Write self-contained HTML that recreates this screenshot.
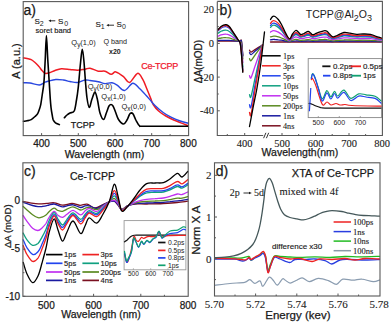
<!DOCTYPE html>
<html><head><meta charset="utf-8"><style>
html,body{margin:0;padding:0;background:#fff;width:392px;height:323px;overflow:hidden}
svg{display:block}
</style></head><body>
<svg width="392" height="323" viewBox="0 0 392 323">
<rect width="392" height="323" fill="#fff"/>
<path d="M23.5,57.9 C24.1,58.0 25.7,58.2 27.0,58.5 C28.3,58.8 29.9,58.9 31.2,59.6 C32.5,60.3 33.7,61.4 35.0,62.5 C36.3,63.6 37.7,65.2 38.9,66.5 C40.1,67.8 41.0,69.4 42.0,70.5 C43.0,71.6 43.8,72.9 45.0,73.3 C46.2,73.7 47.6,73.3 49.3,72.8 C51.0,72.3 53.0,71.2 55.0,70.5 C57.0,69.8 58.8,68.9 61.3,68.7 C63.8,68.5 67.3,69.2 70.0,69.5 C72.7,69.8 75.0,70.3 77.5,70.3 C80.0,70.2 82.9,69.5 85.0,69.2 C87.1,68.9 87.8,67.9 90.0,68.2 C92.2,68.5 95.7,70.7 98.2,71.2 C100.7,71.7 102.8,70.7 105.0,71.2 C107.2,71.7 109.4,74.2 111.2,74.3 C113.0,74.4 113.8,71.5 115.8,71.9 C117.8,72.3 121.2,74.8 123.5,76.6 C125.8,78.4 127.2,83.0 129.5,82.5 C131.8,82.0 135.3,73.9 137.5,73.4 C139.7,72.9 141.3,77.1 142.9,79.7 C144.5,82.3 145.7,86.2 147.0,89.3 C148.3,92.4 149.8,96.1 150.8,98.6 C151.8,101.1 151.9,102.4 153.2,104.5 C154.5,106.6 156.6,109.2 158.6,111.0 C160.6,112.8 162.9,114.2 165.0,115.5 C167.1,116.8 168.5,117.5 171.0,118.7 C173.5,119.9 177.3,121.4 180.2,122.6 C183.1,123.8 186.9,125.2 188.2,125.7" stroke="#f01c24" stroke-width="1.5" fill="none" stroke-linejoin="round" stroke-linecap="round" />
<path d="M23.5,82.8 C24.6,82.8 27.4,82.6 30.0,83.0 C32.6,83.4 36.8,85.1 39.3,85.0 C41.8,84.9 43.5,82.9 45.0,82.2 C46.5,81.5 46.8,81.5 48.6,81.1 C50.4,80.6 53.3,79.7 55.8,79.5 C58.3,79.3 61.0,79.7 63.4,80.0 C65.8,80.3 67.7,81.1 70.0,81.5 C72.3,81.9 75.0,82.8 77.5,82.5 C80.0,82.2 82.9,80.3 85.0,80.0 C87.1,79.7 87.8,80.2 90.0,80.5 C92.2,80.8 95.7,81.2 98.2,81.7 C100.7,82.2 102.7,83.4 105.0,83.6 C107.3,83.8 109.9,82.5 112.0,82.8 C114.1,83.1 115.3,84.0 117.4,85.3 C119.5,86.6 121.9,90.8 124.5,90.5 C127.1,90.2 130.3,83.6 132.8,83.3 C135.3,83.0 137.3,86.5 139.5,88.5 C141.7,90.5 144.2,93.3 146.2,95.5 C148.2,97.7 150.0,100.0 151.6,101.7 C153.2,103.5 153.6,104.2 155.5,106.0 C157.4,107.8 160.6,110.6 163.2,112.5 C165.8,114.4 168.2,115.8 171.0,117.2 C173.8,118.6 177.3,120.0 180.2,121.0 C183.1,122.0 186.9,122.9 188.2,123.3" stroke="#2a48e0" stroke-width="1.4" fill="none" stroke-linejoin="round" stroke-linecap="round" />
<path d="M23.5,121.3 C24.1,121.2 25.7,121.1 27.0,120.8 C28.3,120.5 29.9,120.3 31.2,119.6 C32.5,118.9 33.9,117.5 35.0,116.5 C36.1,115.5 37.0,114.8 37.7,113.6 C38.5,112.3 39.0,110.5 39.5,109.0 C40.0,107.5 40.3,106.6 40.8,104.3 C41.2,102.0 41.7,98.6 42.2,95.0 C42.7,91.4 43.4,88.4 43.9,82.6 C44.4,76.8 44.8,67.8 45.2,60.0 C45.6,52.2 46.0,35.6 46.4,35.6 C46.8,35.6 47.3,52.3 47.8,60.0 C48.3,67.7 48.8,75.7 49.2,82.0 C49.6,88.3 49.9,93.8 50.2,98.0 C50.5,102.2 50.7,104.6 51.0,107.4 C51.3,110.2 51.8,112.9 52.2,115.0 C52.6,117.1 52.7,118.5 53.2,119.8 C53.8,121.1 54.5,122.0 55.5,122.8 C56.5,123.6 58.8,124.3 59.4,124.6" stroke="#000" stroke-width="1.6" fill="none" stroke-linejoin="round" stroke-linecap="round" />
<path d="M64.3,117.8 C64.8,117.3 66.0,115.8 67.0,115.0 C68.0,114.2 68.8,113.7 70.0,113.0 C71.2,112.3 73.1,113.2 74.2,111.0 C75.3,108.8 75.8,103.8 76.5,100.0 C77.2,96.2 77.5,94.2 78.2,87.9 C78.9,81.6 79.9,68.5 80.6,62.0 C81.3,55.5 81.7,49.2 82.3,49.2 C82.9,49.2 83.5,56.5 84.0,62.0 C84.5,67.5 85.0,76.0 85.5,82.0 C86.0,88.0 86.4,93.8 87.0,98.0 C87.6,102.2 88.5,107.3 89.3,107.5 C90.1,107.7 91.0,101.6 92.0,99.0 C93.0,96.4 94.1,91.9 95.0,92.1 C95.9,92.3 96.7,96.5 97.5,100.0 C98.3,103.5 99.0,109.8 100.0,113.0 C101.0,116.2 102.5,119.6 103.6,119.5 C104.7,119.4 105.6,114.8 106.5,112.5 C107.4,110.2 108.2,107.3 109.0,106.0 C109.8,104.7 110.3,104.5 111.0,104.5 C111.7,104.5 112.2,104.8 113.0,106.0 C113.8,107.2 114.6,109.8 115.5,112.0 C116.4,114.2 117.2,117.5 118.5,119.5 C119.8,121.5 122.0,123.9 123.4,124.0 C124.8,124.1 126.0,121.6 127.0,120.0 C128.0,118.4 128.8,115.4 129.6,114.2 C130.3,113.0 130.9,112.9 131.5,112.9 C132.1,113.0 132.7,113.3 133.4,114.5 C134.1,115.7 134.8,118.1 135.8,120.0 C136.8,121.9 138.1,124.8 139.6,125.8 C141.1,126.8 136.9,126.1 145.0,126.2 C153.1,126.3 181.1,126.2 188.3,126.2" stroke="#000" stroke-width="1.6" fill="none" stroke-linejoin="round" stroke-linecap="round" />
<rect x="23.2" y="1.6" width="165.4" height="134.0" fill="none" stroke="#585858" stroke-width="1.1"/>
<line x1="41.6" y1="135.6" x2="41.6" y2="133.1" stroke="#585858" stroke-width="1"/>
<text x="41.6" y="147.3" font-family="Liberation Sans" font-size="10" fill="#1a1a1a" stroke="#1a1a1a" stroke-width="0.25" text-anchor="middle" >400</text>
<line x1="78.3" y1="135.6" x2="78.3" y2="133.1" stroke="#585858" stroke-width="1"/>
<text x="78.3" y="147.3" font-family="Liberation Sans" font-size="10" fill="#1a1a1a" stroke="#1a1a1a" stroke-width="0.25" text-anchor="middle" >500</text>
<line x1="115.0" y1="135.6" x2="115.0" y2="133.1" stroke="#585858" stroke-width="1"/>
<text x="115.0" y="147.3" font-family="Liberation Sans" font-size="10" fill="#1a1a1a" stroke="#1a1a1a" stroke-width="0.25" text-anchor="middle" >600</text>
<line x1="151.7" y1="135.6" x2="151.7" y2="133.1" stroke="#585858" stroke-width="1"/>
<text x="151.7" y="147.3" font-family="Liberation Sans" font-size="10" fill="#1a1a1a" stroke="#1a1a1a" stroke-width="0.25" text-anchor="middle" >700</text>
<text x="188.4" y="147.3" font-family="Liberation Sans" font-size="10" fill="#1a1a1a" stroke="#1a1a1a" stroke-width="0.25" text-anchor="middle" >800</text>
<line x1="60.0" y1="135.6" x2="60.0" y2="134.1" stroke="#585858" stroke-width="1"/>
<line x1="96.7" y1="135.6" x2="96.7" y2="134.1" stroke="#585858" stroke-width="1"/>
<line x1="133.4" y1="135.6" x2="133.4" y2="134.1" stroke="#585858" stroke-width="1"/>
<line x1="170.1" y1="135.6" x2="170.1" y2="134.1" stroke="#585858" stroke-width="1"/>
<text x="64.7" y="157.8" font-family="Liberation Sans" font-size="10.5" fill="#1a1a1a" stroke="#1a1a1a" stroke-width="0.25" text-anchor="start" >Wavelength (nm)</text>
<text x="19.8" y="61.0" font-family="Liberation Sans" font-size="11" fill="#1a1a1a" stroke="#1a1a1a" stroke-width="0.25" text-anchor="middle" transform="rotate(-90 19.8 61)">A (a.u.)</text>
<text x="23.5" y="15.0" font-family="Liberation Sans" font-size="14" fill="#1a1a1a" stroke="#1a1a1a" stroke-width="0.25" text-anchor="start" >a)</text>
<text x="34.5" y="23.5" font-family="Liberation Sans" font-size="8" fill="#1a1a1a" stroke="#1a1a1a" stroke-width="0.15" text-anchor="start" >S</text>
<text x="39.8" y="25.5" font-family="Liberation Sans" font-size="7" fill="#1a1a1a" stroke="#1a1a1a" stroke-width="0" text-anchor="start" >2</text>
<line x1="49.9" y1="20.8" x2="55.3" y2="20.8" stroke="#1a1a1a" stroke-width="0.9"/>
<polygon points="48.4,20.8 51.0,19.5 51.0,22.1" fill="#1a1a1a"/>
<text x="58.0" y="23.5" font-family="Liberation Sans" font-size="8" fill="#1a1a1a" stroke="#1a1a1a" stroke-width="0.15" text-anchor="start" >S</text>
<text x="64.2" y="25.5" font-family="Liberation Sans" font-size="7" fill="#1a1a1a" stroke="#1a1a1a" stroke-width="0" text-anchor="start" >0</text>
<text x="35.6" y="32.9" font-family="Liberation Sans" font-size="7.5" fill="#1a1a1a" stroke="#1a1a1a" stroke-width="0.15" text-anchor="start" >soret band</text>
<text x="95.5" y="27.0" font-family="Liberation Sans" font-size="8" fill="#1a1a1a" stroke="#1a1a1a" stroke-width="0.15" text-anchor="start" >S</text>
<text x="100.8" y="29.3" font-family="Liberation Sans" font-size="7" fill="#1a1a1a" stroke="#1a1a1a" stroke-width="0" text-anchor="start" >1</text>
<line x1="107.8" y1="25.2" x2="114.0" y2="25.2" stroke="#1a1a1a" stroke-width="0.9"/>
<polygon points="106.3,25.2 108.9,23.9 108.9,26.5" fill="#1a1a1a"/>
<text x="116.6" y="27.0" font-family="Liberation Sans" font-size="8" fill="#1a1a1a" stroke="#1a1a1a" stroke-width="0.15" text-anchor="start" >S</text>
<text x="122.0" y="29.4" font-family="Liberation Sans" font-size="7" fill="#1a1a1a" stroke="#1a1a1a" stroke-width="0" text-anchor="start" >0</text>
<text x="103.5" y="44.0" font-family="Liberation Sans" font-size="7.2" fill="#1a1a1a" stroke="#1a1a1a" stroke-width="0" text-anchor="start" >Q band</text>
<text x="109.0" y="53.7" font-family="Liberation Sans" font-size="7" fill="#1a1a1a" stroke="#1a1a1a" stroke-width="0" text-anchor="start" font-weight="bold">x20</text>
<text x="71.3" y="45.2" font-family="Liberation Sans" font-size="7.5" fill="#1a1a1a">Q<tspan font-size="6.4" dy="1.8">y</tspan><tspan dy="-1.8">(1,0)</tspan></text>
<text x="87.7" y="89.2" font-family="Liberation Sans" font-size="7.5" fill="#1a1a1a">Q<tspan font-size="6.4" dy="1.8">y</tspan><tspan dy="-1.8">(0,0)</tspan></text>
<text x="101.3" y="99.0" font-family="Liberation Sans" font-size="7.5" fill="#1a1a1a">Q<tspan font-size="6.4" dy="1.8">x</tspan><tspan dy="-1.8">(1,0)</tspan></text>
<text x="121.5" y="108.8" font-family="Liberation Sans" font-size="7.5" fill="#1a1a1a">Q<tspan font-size="6.4" dy="1.8">x</tspan><tspan dy="-1.8">(0,0)</tspan></text>
<text x="70.8" y="128.3" font-family="Liberation Sans" font-size="9" fill="#1a1a1a" stroke="#1a1a1a" stroke-width="0.25" text-anchor="start" >TCPP</text>
<text x="141.2" y="68.9" font-family="Liberation Sans" font-size="9" fill="#f02030" stroke="#f02030" stroke-width="0.25" text-anchor="start" letter-spacing="-0.25">Ce-TCPP</text>
<path d="M218.0,41.0 C218.5,41.0 220.1,41.0 221.0,41.0 C221.9,41.0 222.7,41.0 223.5,41.0 C224.3,41.0 225.2,41.0 226.1,41.0 C227.0,41.0 228.0,41.0 229.0,41.0 C230.0,41.0 231.0,41.0 232.0,41.0 C233.0,41.0 234.0,41.0 235.1,41.0 C236.2,41.0 237.7,41.0 238.5,41.0 C239.3,41.0 239.7,41.0 240.2,41.0 C240.7,41.0 241.1,38.6 241.5,41.0 C241.9,43.4 242.6,53.0 242.8,55.4" stroke="#7a1020" stroke-width="1.3" fill="none" stroke-linejoin="round" stroke-linecap="round" />
<path d="M249.5,50.1 C249.8,50.4 250.1,52.2 251.0,52.1 C251.9,52.0 253.7,50.5 255.0,49.6 C256.3,48.8 257.8,47.9 259.0,47.1 C260.2,46.4 261.9,45.4 262.5,45.0" stroke="#7a1020" stroke-width="1.3" fill="none" stroke-linejoin="round" stroke-linecap="round" />
<path d="M270.5,42.0 C270.8,42.0 271.8,42.0 272.5,42.0 C273.2,42.0 274.0,42.0 275.0,42.0 C276.0,42.0 277.2,42.0 278.3,42.0 C279.4,42.0 280.4,42.0 281.5,42.0 C282.6,42.0 283.9,42.0 284.9,42.0 C285.9,42.0 286.7,42.0 287.5,42.0 C288.3,42.0 289.1,42.0 289.9,42.0 C290.7,42.0 291.5,42.0 292.5,42.0 C293.5,42.0 294.7,42.0 295.7,42.0 C296.7,42.0 297.7,42.0 298.5,42.0 C299.3,42.0 299.8,42.0 300.7,42.0 C301.6,42.0 302.8,42.0 304.0,42.0 C305.2,42.0 307.0,42.0 308.1,42.0 C309.2,42.0 309.8,42.0 310.5,42.0 C311.2,42.0 311.6,42.0 312.3,42.0 C313.1,42.0 314.0,42.0 315.0,42.0 C316.0,42.0 317.0,42.0 318.5,42.0 C320.0,42.0 322.5,42.0 323.9,42.0 C325.3,42.0 326.1,42.0 327.0,42.0 C327.9,42.0 328.5,42.0 329.5,42.0 C330.5,42.0 331.6,42.0 332.9,42.0 C334.1,42.0 335.2,42.0 337.0,42.0 C338.8,42.0 341.7,42.0 343.9,42.0 C346.1,42.0 347.9,42.0 350.0,42.0 C352.1,42.0 354.6,42.0 356.8,42.0 C359.0,42.0 360.7,42.0 363.0,42.0 C365.3,42.0 368.3,42.0 370.5,42.0 C372.7,42.0 374.2,42.0 376.0,42.0 C377.8,42.0 380.6,42.0 381.5,42.0" stroke="#7a1020" stroke-width="1.3" fill="none" stroke-linejoin="round" stroke-linecap="round" />
<path d="M218.0,40.5 C218.5,40.5 220.1,40.4 221.0,40.4 C221.9,40.4 222.7,40.4 223.5,40.4 C224.3,40.4 225.2,40.3 226.1,40.3 C227.0,40.4 228.0,40.4 229.0,40.4 C230.0,40.4 231.0,40.5 232.0,40.6 C233.0,40.6 234.0,40.7 235.1,40.8 C236.2,40.8 237.7,40.9 238.5,41.0 C239.3,41.0 239.7,41.0 240.2,41.1 C240.7,41.2 241.1,39.1 241.5,41.6 C241.9,44.1 242.6,53.6 242.8,56.0" stroke="#1a1aa0" stroke-width="1.3" fill="none" stroke-linejoin="round" stroke-linecap="round" />
<path d="M249.5,52.7 C249.8,53.0 250.1,54.9 251.0,54.7 C251.9,54.4 253.7,52.4 255.0,51.3 C256.3,50.2 257.8,49.0 259.0,47.9 C260.2,46.9 261.9,45.5 262.5,45.0" stroke="#1a1aa0" stroke-width="1.3" fill="none" stroke-linejoin="round" stroke-linecap="round" />
<path d="M270.5,39.8 C270.8,39.7 271.8,39.5 272.5,39.5 C273.2,39.4 274.0,39.4 275.0,39.5 C276.0,39.5 277.2,39.6 278.3,39.8 C279.4,39.9 280.4,40.0 281.5,40.2 C282.6,40.5 283.9,40.8 284.9,41.0 C285.9,41.2 286.7,41.3 287.5,41.5 C288.3,41.6 289.1,41.7 289.9,41.7 C290.7,41.6 291.5,41.3 292.5,41.2 C293.5,41.1 294.7,40.9 295.7,40.9 C296.7,40.8 297.7,41.0 298.5,41.0 C299.3,41.1 299.8,41.2 300.7,41.2 C301.6,41.3 302.8,41.2 304.0,41.1 C305.2,41.1 307.0,40.9 308.1,40.9 C309.2,40.9 309.8,41.0 310.5,41.1 C311.2,41.2 311.6,41.2 312.3,41.3 C313.1,41.3 314.0,41.2 315.0,41.2 C316.0,41.2 317.0,41.1 318.5,41.0 C320.0,41.0 322.5,40.9 323.9,40.9 C325.3,40.9 326.1,40.9 327.0,40.9 C327.9,41.0 328.5,41.1 329.5,41.2 C330.5,41.3 331.6,41.5 332.9,41.5 C334.1,41.5 335.2,41.4 337.0,41.4 C338.8,41.3 341.7,41.1 343.9,41.0 C346.1,41.0 347.9,41.1 350.0,41.1 C352.1,41.1 354.6,41.2 356.8,41.2 C359.0,41.2 360.7,41.2 363.0,41.2 C365.3,41.2 368.3,41.2 370.5,41.2 C372.7,41.3 374.2,41.4 376.0,41.4 C377.8,41.5 380.6,41.6 381.5,41.6" stroke="#1a1aa0" stroke-width="1.3" fill="none" stroke-linejoin="round" stroke-linecap="round" />
<path d="M218.0,38.6 C218.5,38.5 220.1,38.1 221.0,38.0 C221.9,37.8 222.7,37.7 223.5,37.7 C224.3,37.6 225.2,37.5 226.1,37.6 C227.0,37.6 228.0,37.7 229.0,37.9 C230.0,38.1 231.0,38.4 232.0,38.8 C233.0,39.1 234.0,39.4 235.1,39.8 C236.2,40.1 237.7,40.6 238.5,40.9 C239.3,41.2 239.7,41.0 240.2,41.5 C240.7,42.0 241.1,41.0 241.5,43.9 C241.9,46.8 242.6,56.4 242.8,58.9" stroke="#5a8a20" stroke-width="1.3" fill="none" stroke-linejoin="round" stroke-linecap="round" />
<path d="M249.5,58.7 C249.8,59.0 250.1,61.2 251.0,60.7 C251.9,60.1 253.7,57.0 255.0,55.2 C256.3,53.4 257.8,51.4 259.0,49.7 C260.2,48.0 261.9,45.8 262.5,45.0" stroke="#5a8a20" stroke-width="1.3" fill="none" stroke-linejoin="round" stroke-linecap="round" />
<path d="M270.5,36.9 C270.8,36.8 271.8,36.4 272.5,36.3 C273.2,36.1 274.0,36.1 275.0,36.2 C276.0,36.3 277.2,36.6 278.3,36.9 C279.4,37.2 280.4,37.6 281.5,38.0 C282.6,38.5 283.9,39.2 284.9,39.6 C285.9,40.1 286.7,40.5 287.5,40.8 C288.3,41.0 289.1,41.4 289.9,41.3 C290.7,41.2 291.5,40.5 292.5,40.2 C293.5,39.9 294.7,39.5 295.7,39.4 C296.7,39.3 297.7,39.6 298.5,39.8 C299.3,39.9 299.8,40.3 300.7,40.3 C301.6,40.4 302.8,40.2 304.0,40.1 C305.2,40.0 307.0,39.6 308.1,39.6 C309.2,39.6 309.8,39.8 310.5,40.0 C311.2,40.1 311.6,40.3 312.3,40.3 C313.1,40.4 314.0,40.3 315.0,40.2 C316.0,40.1 317.0,40.0 318.5,39.8 C320.0,39.7 322.5,39.5 323.9,39.5 C325.3,39.4 326.1,39.4 327.0,39.6 C327.9,39.7 328.5,40.0 329.5,40.2 C330.5,40.4 331.6,40.8 332.9,40.8 C334.1,40.9 335.2,40.7 337.0,40.5 C338.8,40.4 341.7,39.9 343.9,39.9 C346.1,39.8 347.9,39.9 350.0,40.0 C352.1,40.1 354.6,40.2 356.8,40.3 C359.0,40.3 360.7,40.2 363.0,40.2 C365.3,40.2 368.3,40.2 370.5,40.3 C372.7,40.3 374.2,40.6 376.0,40.7 C377.8,40.9 380.6,41.0 381.5,41.1" stroke="#5a8a20" stroke-width="1.3" fill="none" stroke-linejoin="round" stroke-linecap="round" />
<path d="M218.0,36.2 C218.5,36.0 220.1,35.2 221.0,34.9 C221.9,34.6 222.7,34.4 223.5,34.3 C224.3,34.2 225.2,34.1 226.1,34.2 C227.0,34.2 228.0,34.4 229.0,34.8 C230.0,35.2 231.0,35.9 232.0,36.5 C233.0,37.1 234.0,37.8 235.1,38.5 C236.2,39.2 237.7,40.2 238.5,40.8 C239.3,41.4 239.7,40.9 240.2,41.9 C240.7,42.9 241.1,43.5 241.5,46.9 C241.9,50.3 242.6,59.9 242.8,62.5" stroke="#c030f0" stroke-width="1.3" fill="none" stroke-linejoin="round" stroke-linecap="round" />
<path d="M249.5,75.8 C249.8,76.1 250.1,79.3 251.0,77.8 C251.9,76.2 253.7,70.1 255.0,66.3 C256.3,62.5 257.8,58.4 259.0,54.8 C260.2,51.3 261.9,46.6 262.5,45.0" stroke="#c030f0" stroke-width="1.3" fill="none" stroke-linejoin="round" stroke-linecap="round" />
<path d="M270.5,32.1 C270.8,31.9 271.8,31.0 272.5,30.8 C273.2,30.6 274.0,30.6 275.0,30.8 C276.0,31.0 277.2,31.5 278.3,32.1 C279.4,32.7 280.4,33.4 281.5,34.3 C282.6,35.2 283.9,36.5 284.9,37.4 C285.9,38.3 286.7,39.1 287.5,39.6 C288.3,40.1 289.1,40.8 289.9,40.6 C290.7,40.4 291.5,39.1 292.5,38.5 C293.5,37.9 294.7,37.1 295.7,36.9 C296.7,36.8 297.7,37.4 298.5,37.7 C299.3,38.0 299.8,38.6 300.7,38.7 C301.6,38.8 302.8,38.5 304.0,38.3 C305.2,38.0 307.0,37.3 308.1,37.3 C309.2,37.3 309.8,37.8 310.5,38.0 C311.2,38.3 311.6,38.7 312.3,38.7 C313.1,38.8 314.0,38.6 315.0,38.5 C316.0,38.3 317.0,38.0 318.5,37.8 C320.0,37.5 322.5,37.2 323.9,37.1 C325.3,37.0 326.1,37.0 327.0,37.2 C327.9,37.5 328.5,38.1 329.5,38.5 C330.5,38.9 331.6,39.6 332.9,39.7 C334.1,39.8 335.2,39.5 337.0,39.1 C338.8,38.8 341.7,38.0 343.9,37.8 C346.1,37.7 347.9,38.0 350.0,38.1 C352.1,38.3 354.6,38.6 356.8,38.6 C359.0,38.7 360.7,38.5 363.0,38.5 C365.3,38.5 368.3,38.4 370.5,38.6 C372.7,38.8 374.2,39.2 376.0,39.5 C377.8,39.8 380.6,40.1 381.5,40.2" stroke="#c030f0" stroke-width="1.3" fill="none" stroke-linejoin="round" stroke-linecap="round" />
<path d="M218.0,33.3 C218.5,33.0 220.1,31.8 221.0,31.3 C221.9,30.8 222.7,30.5 223.5,30.3 C224.3,30.1 225.2,29.9 226.1,30.1 C227.0,30.2 228.0,30.5 229.0,31.2 C230.0,31.8 231.0,32.8 232.0,33.8 C233.0,34.8 234.0,35.9 235.1,37.0 C236.2,38.2 237.7,39.8 238.5,40.7 C239.3,41.6 239.7,40.9 240.2,42.5 C240.7,44.1 241.1,46.3 241.5,50.4 C241.9,54.4 242.6,64.0 242.8,66.7" stroke="#10a080" stroke-width="1.3" fill="none" stroke-linejoin="round" stroke-linecap="round" />
<path d="M249.5,94.6 C249.8,94.9 250.1,99.3 251.0,96.6 C251.9,93.9 253.7,84.5 255.0,78.5 C256.3,72.5 257.8,66.1 259.0,60.5 C260.2,54.9 261.9,47.6 262.5,45.0" stroke="#10a080" stroke-width="1.3" fill="none" stroke-linejoin="round" stroke-linecap="round" />
<path d="M270.5,27.4 C270.8,27.1 271.8,25.8 272.5,25.5 C273.2,25.2 274.0,25.1 275.0,25.4 C276.0,25.7 277.2,26.5 278.3,27.4 C279.4,28.2 280.4,29.3 281.5,30.6 C282.6,31.9 283.9,33.9 284.9,35.2 C285.9,36.5 286.7,37.6 287.5,38.4 C288.3,39.2 289.1,40.2 289.9,39.9 C290.7,39.6 291.5,37.7 292.5,36.8 C293.5,35.9 294.7,34.7 295.7,34.5 C296.7,34.3 297.7,35.2 298.5,35.6 C299.3,36.1 299.8,37.0 300.7,37.1 C301.6,37.3 302.8,36.8 304.0,36.5 C305.2,36.1 307.0,35.1 308.1,35.0 C309.2,35.0 309.8,35.8 310.5,36.1 C311.2,36.5 311.6,37.1 312.3,37.2 C313.1,37.3 314.0,37.0 315.0,36.8 C316.0,36.6 317.0,36.1 318.5,35.8 C320.0,35.4 322.5,34.9 323.9,34.7 C325.3,34.6 326.1,34.6 327.0,35.0 C327.9,35.3 328.5,36.2 329.5,36.8 C330.5,37.4 331.6,38.5 332.9,38.6 C334.1,38.8 335.2,38.2 337.0,37.8 C338.8,37.3 341.7,36.1 343.9,35.8 C346.1,35.6 347.9,36.1 350.0,36.3 C352.1,36.5 354.6,36.9 356.8,37.0 C359.0,37.1 360.7,36.8 363.0,36.8 C365.3,36.8 368.3,36.7 370.5,37.0 C372.7,37.2 374.2,37.9 376.0,38.3 C377.8,38.7 380.6,39.2 381.5,39.4" stroke="#10a080" stroke-width="1.3" fill="none" stroke-linejoin="round" stroke-linecap="round" />
<path d="M218.0,30.9 C218.5,30.4 220.1,28.9 221.0,28.2 C221.9,27.6 222.7,27.3 223.5,27.0 C224.3,26.7 225.2,26.5 226.1,26.7 C227.0,26.8 228.0,27.2 229.0,28.1 C230.0,28.9 231.0,30.3 232.0,31.6 C233.0,32.9 234.0,34.3 235.1,35.8 C236.2,37.3 237.7,39.4 238.5,40.6 C239.3,41.7 239.7,40.8 240.2,42.9 C240.7,45.1 241.1,48.8 241.5,53.3 C241.9,57.9 242.6,67.4 242.8,70.3" stroke="#2244ee" stroke-width="1.3" fill="none" stroke-linejoin="round" stroke-linecap="round" />
<path d="M249.5,104.8 C249.8,105.2 250.1,110.1 251.0,106.8 C251.9,103.6 253.7,92.4 255.0,85.2 C256.3,78.0 257.8,70.2 259.0,63.6 C260.2,56.9 261.9,48.1 262.5,45.0" stroke="#2244ee" stroke-width="1.3" fill="none" stroke-linejoin="round" stroke-linecap="round" />
<path d="M270.5,25.6 C270.8,25.2 271.8,23.8 272.5,23.5 C273.2,23.1 274.0,23.0 275.0,23.4 C276.0,23.7 277.2,24.6 278.3,25.6 C279.4,26.5 280.4,27.8 281.5,29.2 C282.6,30.7 283.9,32.9 284.9,34.4 C285.9,35.9 286.7,37.1 287.5,38.0 C288.3,38.9 289.1,40.0 289.9,39.7 C290.7,39.4 291.5,37.2 292.5,36.2 C293.5,35.2 294.7,33.8 295.7,33.6 C296.7,33.4 297.7,34.4 298.5,34.8 C299.3,35.3 299.8,36.4 300.7,36.5 C301.6,36.7 302.8,36.2 304.0,35.8 C305.2,35.4 307.0,34.2 308.1,34.2 C309.2,34.1 309.8,35.0 310.5,35.4 C311.2,35.8 311.6,36.5 312.3,36.6 C313.1,36.7 314.0,36.4 315.0,36.2 C316.0,35.9 317.0,35.4 318.5,35.0 C320.0,34.6 322.5,34.0 323.9,33.8 C325.3,33.7 326.1,33.7 327.0,34.1 C327.9,34.5 328.5,35.5 329.5,36.2 C330.5,36.8 331.6,38.0 332.9,38.2 C334.1,38.4 335.2,37.8 337.0,37.3 C338.8,36.7 341.7,35.3 343.9,35.1 C346.1,34.8 347.9,35.4 350.0,35.6 C352.1,35.8 354.6,36.3 356.8,36.4 C359.0,36.5 360.7,36.2 363.0,36.2 C365.3,36.2 368.3,36.1 370.5,36.4 C372.7,36.7 374.2,37.4 376.0,37.8 C377.8,38.3 380.6,38.9 381.5,39.1" stroke="#2244ee" stroke-width="1.3" fill="none" stroke-linejoin="round" stroke-linecap="round" />
<path d="M218.0,30.1 C218.5,29.6 220.1,27.9 221.0,27.2 C221.9,26.5 222.7,26.2 223.5,25.9 C224.3,25.6 225.2,25.3 226.1,25.5 C227.0,25.7 228.0,26.1 229.0,27.0 C230.0,27.9 231.0,29.4 232.0,30.8 C233.0,32.2 234.0,33.8 235.1,35.4 C236.2,37.0 237.7,39.2 238.5,40.5 C239.3,41.8 239.7,40.8 240.2,43.1 C240.7,45.4 241.1,49.6 241.5,54.3 C241.9,59.0 242.6,68.6 242.8,71.5" stroke="#ee2222" stroke-width="1.3" fill="none" stroke-linejoin="round" stroke-linecap="round" />
<path d="M249.5,112.5 C249.8,112.9 250.1,118.3 251.0,114.5 C251.9,110.8 253.7,98.3 255.0,90.2 C256.3,82.1 257.8,73.4 259.0,65.9 C260.2,58.3 261.9,48.5 262.5,45.0" stroke="#ee2222" stroke-width="1.3" fill="none" stroke-linejoin="round" stroke-linecap="round" />
<path d="M270.5,23.4 C270.8,23.0 271.8,21.5 272.5,21.0 C273.2,20.6 274.0,20.6 275.0,21.0 C276.0,21.4 277.2,22.3 278.3,23.4 C279.4,24.5 280.4,25.9 281.5,27.6 C282.6,29.2 283.9,31.8 284.9,33.4 C285.9,35.1 286.7,36.5 287.5,37.5 C288.3,38.5 289.1,39.7 289.9,39.4 C290.7,39.0 291.5,36.5 292.5,35.4 C293.5,34.3 294.7,32.8 295.7,32.5 C296.7,32.3 297.7,33.4 298.5,33.9 C299.3,34.5 299.8,35.6 300.7,35.8 C301.6,36.0 302.8,35.4 304.0,35.0 C305.2,34.5 307.0,33.2 308.1,33.2 C309.2,33.1 309.8,34.1 310.5,34.6 C311.2,35.0 311.6,35.8 312.3,35.9 C313.1,36.0 314.0,35.7 315.0,35.4 C316.0,35.1 317.0,34.5 318.5,34.1 C320.0,33.6 322.5,32.9 323.9,32.8 C325.3,32.6 326.1,32.7 327.0,33.1 C327.9,33.5 328.5,34.6 329.5,35.4 C330.5,36.2 331.6,37.5 332.9,37.7 C334.1,37.9 335.2,37.2 337.0,36.6 C338.8,36.0 341.7,34.5 343.9,34.2 C346.1,33.8 347.9,34.5 350.0,34.7 C352.1,35.0 354.6,35.5 356.8,35.6 C359.0,35.8 360.7,35.4 363.0,35.4 C365.3,35.4 368.3,35.3 370.5,35.6 C372.7,36.0 374.2,36.8 376.0,37.3 C377.8,37.8 380.6,38.5 381.5,38.7" stroke="#ee2222" stroke-width="1.3" fill="none" stroke-linejoin="round" stroke-linecap="round" />
<path d="M218.0,29.5 C218.5,29.0 220.1,27.2 221.0,26.5 C221.9,25.8 222.7,25.4 223.5,25.1 C224.3,24.8 225.2,24.5 226.1,24.7 C227.0,24.9 228.0,25.4 229.0,26.3 C230.0,27.2 231.0,28.8 232.0,30.3 C233.0,31.8 234.0,33.4 235.1,35.1 C236.2,36.8 237.7,39.1 238.5,40.5 C239.3,41.9 239.7,40.8 240.2,43.2 C240.7,45.6 241.1,50.1 241.5,55.0 C241.9,59.9 242.6,69.4 242.8,72.3" stroke="#000000" stroke-width="1.3" fill="none" stroke-linejoin="round" stroke-linecap="round" />
<path d="M249.5,126.5 C250.1,123.4 251.8,114.4 253.0,108.0 C254.2,101.6 255.7,95.7 257.0,88.0 C258.3,80.3 259.8,71.4 261.0,62.0 C262.2,52.6 263.9,36.8 264.5,31.8" stroke="#000000" stroke-width="1.3" fill="none" stroke-linejoin="round" stroke-linecap="round" />
<path d="M270.5,19.5 C270.8,19.0 271.8,17.1 272.5,16.6 C273.2,16.1 274.0,16.0 275.0,16.5 C276.0,17.0 277.2,18.2 278.3,19.5 C279.4,20.8 280.4,22.5 281.5,24.5 C282.6,26.5 283.9,29.6 284.9,31.6 C285.9,33.6 286.7,35.3 287.5,36.5 C288.3,37.7 289.1,39.2 289.9,38.8 C290.7,38.4 291.5,35.4 292.5,34.0 C293.5,32.6 294.7,30.8 295.7,30.5 C296.7,30.2 297.7,31.5 298.5,32.2 C299.3,32.9 299.8,34.3 300.7,34.5 C301.6,34.7 302.8,34.0 304.0,33.5 C305.2,33.0 307.0,31.4 308.1,31.3 C309.2,31.2 309.8,32.5 310.5,33.0 C311.2,33.5 311.6,34.4 312.3,34.6 C313.1,34.8 314.0,34.4 315.0,34.0 C316.0,33.6 317.0,32.9 318.5,32.4 C320.0,31.9 322.5,31.0 323.9,30.8 C325.3,30.6 326.1,30.7 327.0,31.2 C327.9,31.7 328.5,33.1 329.5,34.0 C330.5,34.9 331.6,36.5 332.9,36.8 C334.1,37.0 335.2,36.2 337.0,35.5 C338.8,34.8 341.7,32.9 343.9,32.5 C346.1,32.1 347.9,32.9 350.0,33.2 C352.1,33.5 354.6,34.2 356.8,34.3 C359.0,34.4 360.7,34.0 363.0,34.0 C365.3,34.0 368.3,33.9 370.5,34.3 C372.7,34.7 374.2,35.7 376.0,36.3 C377.8,36.9 380.6,37.7 381.5,38.0" stroke="#000000" stroke-width="1.3" fill="none" stroke-linejoin="round" stroke-linecap="round" />
<polyline points="263.2,135.5 217.3,135.5 217.3,1.4" fill="none" stroke="#585858" stroke-width="1.1"/>
<polyline points="217.3,1.4 382.4,1.4 382.4,135.5 269.3,135.5" fill="none" stroke="#585858" stroke-width="1.1"/>
<line x1="263.6" y1="138.2" x2="265.9" y2="132.8" stroke="#333" stroke-width="1"/>
<line x1="266.4" y1="138.2" x2="268.7" y2="132.8" stroke="#333" stroke-width="1"/>
<line x1="217.3" y1="9.7" x2="219.8" y2="9.7" stroke="#585858" stroke-width="1"/>
<text x="214.0" y="13.3" font-family="Liberation Serif" font-size="10.5" fill="#1a1a1a" stroke="#1a1a1a" stroke-width="0.1" text-anchor="end" >20</text>
<line x1="217.3" y1="43.4" x2="219.8" y2="43.4" stroke="#585858" stroke-width="1"/>
<text x="214.0" y="47.0" font-family="Liberation Serif" font-size="10.5" fill="#1a1a1a" stroke="#1a1a1a" stroke-width="0.1" text-anchor="end" >0</text>
<line x1="217.3" y1="77.1" x2="219.8" y2="77.1" stroke="#585858" stroke-width="1"/>
<text x="214.0" y="80.7" font-family="Liberation Serif" font-size="10.5" fill="#1a1a1a" stroke="#1a1a1a" stroke-width="0.1" text-anchor="end" >-20</text>
<line x1="217.3" y1="110.8" x2="219.8" y2="110.8" stroke="#585858" stroke-width="1"/>
<text x="214.0" y="114.4" font-family="Liberation Serif" font-size="10.5" fill="#1a1a1a" stroke="#1a1a1a" stroke-width="0.1" text-anchor="end" >-40</text>
<line x1="217.3" y1="26.5" x2="218.8" y2="26.5" stroke="#585858" stroke-width="1"/>
<line x1="217.3" y1="60.2" x2="218.8" y2="60.2" stroke="#585858" stroke-width="1"/>
<line x1="217.3" y1="94.0" x2="218.8" y2="94.0" stroke="#585858" stroke-width="1"/>
<line x1="244.7" y1="135.5" x2="244.7" y2="133.0" stroke="#585858" stroke-width="1"/>
<text x="244.7" y="147.2" font-family="Liberation Serif" font-size="10.5" fill="#1a1a1a" stroke="#1a1a1a" stroke-width="0.1" text-anchor="middle" >400</text>
<line x1="282.0" y1="135.5" x2="282.0" y2="133.0" stroke="#585858" stroke-width="1"/>
<text x="282.0" y="147.2" font-family="Liberation Serif" font-size="10.5" fill="#1a1a1a" stroke="#1a1a1a" stroke-width="0.1" text-anchor="middle" >500</text>
<line x1="315.5" y1="135.5" x2="315.5" y2="133.0" stroke="#585858" stroke-width="1"/>
<text x="315.5" y="147.2" font-family="Liberation Serif" font-size="10.5" fill="#1a1a1a" stroke="#1a1a1a" stroke-width="0.1" text-anchor="middle" >600</text>
<line x1="349.0" y1="135.5" x2="349.0" y2="133.0" stroke="#585858" stroke-width="1"/>
<text x="349.0" y="147.2" font-family="Liberation Serif" font-size="10.5" fill="#1a1a1a" stroke="#1a1a1a" stroke-width="0.1" text-anchor="middle" >700</text>
<text x="382.2" y="147.2" font-family="Liberation Serif" font-size="10.5" fill="#1a1a1a" stroke="#1a1a1a" stroke-width="0.1" text-anchor="middle" >800</text>
<line x1="227.3" y1="135.5" x2="227.3" y2="134.0" stroke="#585858" stroke-width="1"/>
<line x1="298.7" y1="135.5" x2="298.7" y2="134.0" stroke="#585858" stroke-width="1"/>
<line x1="332.2" y1="135.5" x2="332.2" y2="134.0" stroke="#585858" stroke-width="1"/>
<line x1="365.6" y1="135.5" x2="365.6" y2="134.0" stroke="#585858" stroke-width="1"/>
<text x="261.6" y="155.6" font-family="Liberation Sans" font-size="10.5" fill="#1a1a1a" stroke="#1a1a1a" stroke-width="0.25" text-anchor="start" >Wavelength(nm)</text>
<text x="201.8" y="61.6" font-family="Liberation Sans" font-size="10" fill="#1a1a1a" stroke="#1a1a1a" stroke-width="0.25" text-anchor="middle" transform="rotate(-90 201.8 61.6)">&#x394;A(mOD)</text>
<text x="219.4" y="14.5" font-family="Liberation Sans" font-size="14" fill="#1a1a1a" stroke="#1a1a1a" stroke-width="0.25" text-anchor="start" >b)</text>
<text x="305.8" y="17.9" font-family="Liberation Sans" font-size="10.5" fill="#1a1a1a">TCPP@Al<tspan font-size="9" dy="2.6">2</tspan><tspan dy="-2.6">O</tspan><tspan font-size="9" dy="2.6">3</tspan></text>
<line x1="262.0" y1="55.8" x2="280.7" y2="55.8" stroke="#000000" stroke-width="1.5"/>
<text x="283.0" y="58.7" font-family="Liberation Serif" font-size="8.2" fill="#1a1a1a" stroke="#1a1a1a" stroke-width="0.1" text-anchor="start" >1ps</text>
<line x1="262.0" y1="65.8" x2="280.7" y2="65.8" stroke="#ee2222" stroke-width="1.5"/>
<text x="283.0" y="68.7" font-family="Liberation Serif" font-size="8.2" fill="#1a1a1a" stroke="#1a1a1a" stroke-width="0.1" text-anchor="start" >3ps</text>
<line x1="262.0" y1="75.8" x2="280.7" y2="75.8" stroke="#2244ee" stroke-width="1.5"/>
<text x="283.0" y="78.7" font-family="Liberation Serif" font-size="8.2" fill="#1a1a1a" stroke="#1a1a1a" stroke-width="0.1" text-anchor="start" >5ps</text>
<line x1="262.0" y1="85.8" x2="280.7" y2="85.8" stroke="#10a080" stroke-width="1.5"/>
<text x="283.0" y="88.7" font-family="Liberation Serif" font-size="8.2" fill="#1a1a1a" stroke="#1a1a1a" stroke-width="0.1" text-anchor="start" >10ps</text>
<line x1="262.0" y1="95.8" x2="280.7" y2="95.8" stroke="#c030f0" stroke-width="1.5"/>
<text x="283.0" y="98.7" font-family="Liberation Serif" font-size="8.2" fill="#1a1a1a" stroke="#1a1a1a" stroke-width="0.1" text-anchor="start" >50ps</text>
<line x1="262.0" y1="105.8" x2="280.7" y2="105.8" stroke="#5a8a20" stroke-width="1.5"/>
<text x="283.0" y="108.7" font-family="Liberation Serif" font-size="8.2" fill="#1a1a1a" stroke="#1a1a1a" stroke-width="0.1" text-anchor="start" >200ps</text>
<line x1="262.0" y1="115.8" x2="280.7" y2="115.8" stroke="#1a1aa0" stroke-width="1.5"/>
<text x="283.0" y="118.7" font-family="Liberation Serif" font-size="8.2" fill="#1a1a1a" stroke="#1a1a1a" stroke-width="0.1" text-anchor="start" >1ns</text>
<line x1="262.0" y1="125.8" x2="280.7" y2="125.8" stroke="#7a1020" stroke-width="1.5"/>
<text x="283.0" y="128.7" font-family="Liberation Serif" font-size="8.2" fill="#1a1a1a" stroke="#1a1a1a" stroke-width="0.1" text-anchor="start" >4ns</text>
<rect x="308.2" y="58.6" width="73.4" height="59.0" fill="#fff" stroke="#888" stroke-width="0.9"/>
<path d="M309.1,103.4 C309.6,103.5 310.9,103.8 312.0,104.2 C313.1,104.6 314.6,105.4 316.0,106.0 C317.4,106.6 319.2,107.2 320.7,107.6 C322.2,107.9 320.1,108.0 325.0,108.1 C329.9,108.2 340.7,108.1 350.0,108.1 C359.3,108.1 375.8,108.1 381.0,108.1" stroke="#111" stroke-width="1.2" fill="none" stroke-linejoin="round" stroke-linecap="round" />
<path d="M311.3,79.6 C311.5,79.4 311.7,77.4 312.5,78.5 C313.3,79.6 314.4,81.7 316.0,86.0 C317.6,90.3 320.5,101.6 322.3,104.3 C324.1,107.0 325.6,101.9 327.0,102.0 C328.4,102.1 329.5,104.8 331.0,105.0 C332.5,105.2 334.5,103.5 336.0,103.5 C337.5,103.5 338.5,104.8 340.0,105.0 C341.5,105.2 343.0,104.4 345.0,104.5 C347.0,104.6 346.0,105.2 352.0,105.5 C358.0,105.8 376.2,106.1 381.0,106.2" stroke="#ee2222" stroke-width="1.2" fill="none" stroke-linejoin="round" stroke-linecap="round" />
<path d="M311.3,78.0 C311.5,77.3 312.0,73.8 312.6,73.7 C313.2,73.6 314.0,75.0 315.0,77.5 C316.0,80.0 317.3,85.0 318.5,88.5 C319.7,92.0 320.9,98.5 322.3,98.8 C323.7,99.1 325.5,90.9 326.9,90.6 C328.3,90.3 329.5,96.7 330.8,96.8 C332.1,96.9 333.5,91.4 334.6,91.3 C335.8,91.2 336.1,96.2 337.7,96.0 C339.2,95.8 341.7,89.7 343.9,90.1 C346.1,90.5 348.4,97.7 350.9,98.3 C353.4,98.9 356.2,94.5 358.7,93.9 C361.2,93.3 363.3,94.4 366.0,94.8 C368.7,95.2 372.6,95.2 375.1,96.2 C377.6,97.2 380.0,100.1 381.0,100.9" stroke="#10a070" stroke-width="1.2" fill="none" stroke-linejoin="round" stroke-linecap="round" />
<path d="M311.3,78.5 C311.5,77.8 312.0,74.3 312.6,74.2 C313.2,74.1 314.0,75.5 315.0,78.0 C316.0,80.5 317.3,85.2 318.5,89.0 C319.7,92.8 320.9,100.4 322.3,101.0 C323.7,101.6 325.5,93.1 326.9,92.8 C328.3,92.5 329.5,98.9 330.8,99.0 C332.1,99.1 333.5,93.6 334.6,93.5 C335.8,93.4 336.1,98.4 337.7,98.2 C339.2,98.0 341.7,91.9 343.9,92.3 C346.1,92.7 348.4,99.9 350.9,100.5 C353.4,101.1 356.2,96.7 358.7,96.1 C361.2,95.5 363.3,96.6 366.0,97.0 C368.7,97.4 372.6,97.4 375.1,98.4 C377.6,99.4 380.0,102.3 381.0,103.1" stroke="#2244ee" stroke-width="1.2" fill="none" stroke-linejoin="round" stroke-linecap="round" />
<line x1="309.4" y1="111.3" x2="310.8" y2="88.0" stroke="#2244ee" stroke-width="1.2"/>
<line x1="318.3" y1="117.6" x2="318.3" y2="116.1" stroke="#888" stroke-width="0.8"/>
<text x="318.3" y="125.0" font-family="Liberation Sans" font-size="7" fill="#1a1a1a" stroke="#1a1a1a" stroke-width="0" text-anchor="middle" >500</text>
<line x1="339.3" y1="117.6" x2="339.3" y2="116.1" stroke="#888" stroke-width="0.8"/>
<text x="339.3" y="125.0" font-family="Liberation Sans" font-size="7" fill="#1a1a1a" stroke="#1a1a1a" stroke-width="0" text-anchor="middle" >600</text>
<line x1="360.3" y1="117.6" x2="360.3" y2="116.1" stroke="#888" stroke-width="0.8"/>
<text x="360.3" y="125.0" font-family="Liberation Sans" font-size="7" fill="#1a1a1a" stroke="#1a1a1a" stroke-width="0" text-anchor="middle" >700</text>
<line x1="322.3" y1="66.3" x2="330.5" y2="66.3" stroke="#111" stroke-width="1.8"/>
<text x="332.9" y="69.0" font-family="Liberation Sans" font-size="8" fill="#1a1a1a" stroke="#1a1a1a" stroke-width="0.15" text-anchor="start" >0.2ps</text>
<line x1="350.5" y1="66.3" x2="361.0" y2="66.3" stroke="#ee2222" stroke-width="1.8"/>
<text x="362.9" y="69.0" font-family="Liberation Sans" font-size="8" fill="#1a1a1a" stroke="#1a1a1a" stroke-width="0.15" text-anchor="start" >0.5ps</text>
<line x1="323.0" y1="75.7" x2="330.5" y2="75.7" stroke="#2244ee" stroke-width="1.8"/>
<text x="332.9" y="78.4" font-family="Liberation Sans" font-size="8" fill="#1a1a1a" stroke="#1a1a1a" stroke-width="0.15" text-anchor="start" >0.8ps</text>
<line x1="351.2" y1="75.7" x2="361.0" y2="75.7" stroke="#10a070" stroke-width="1.8"/>
<text x="362.9" y="78.4" font-family="Liberation Sans" font-size="8" fill="#1a1a1a" stroke="#1a1a1a" stroke-width="0.15" text-anchor="start" >1ps</text>
<path d="M23.0,201.5 C24.2,201.7 27.4,202.4 30.0,202.8 C32.6,203.2 35.8,203.8 38.6,203.9 C41.4,204.0 44.4,203.5 47.0,203.3 C49.6,203.1 51.8,202.5 54.4,202.8 C57.0,203.1 59.8,205.1 62.7,205.2 C65.6,205.3 69.1,203.5 72.0,203.5 C74.9,203.5 77.5,205.2 80.0,205.3 C82.5,205.4 84.5,203.8 87.0,204.2 C89.5,204.6 92.3,207.9 95.0,208.0 C97.7,208.1 100.5,205.6 103.0,204.5 C105.5,203.4 108.2,202.1 110.0,201.5 C111.8,200.9 112.7,200.4 114.0,201.0 C115.3,201.6 116.7,203.6 118.0,205.0 C119.3,206.4 120.0,209.4 121.7,209.5 C123.4,209.6 125.8,206.4 128.0,205.5 C130.2,204.6 131.8,204.2 135.0,204.0 C138.2,203.8 142.3,204.1 147.0,204.0 C151.7,203.9 158.0,203.8 163.0,203.5 C168.0,203.2 172.9,202.9 177.0,202.5 C181.1,202.1 185.9,201.4 187.7,201.2" stroke="#7a1020" stroke-width="1.3" fill="none" stroke-linejoin="round" stroke-linecap="round" />
<path d="M23.2,202.5 C23.8,202.7 25.4,203.2 27.0,203.7 C28.6,204.3 30.8,205.0 32.6,205.5 C34.4,206.0 36.4,206.5 38.0,206.7 C39.6,206.8 40.7,206.6 42.0,206.5 C43.3,206.3 44.8,206.1 46.0,205.8 C47.2,205.6 47.7,205.3 49.0,205.0 C50.3,204.7 52.5,203.9 54.0,204.0 C55.5,204.0 56.6,204.9 58.0,205.4 C59.4,205.9 61.0,206.9 62.5,206.9 C64.0,207.0 65.2,206.3 67.0,205.9 C68.8,205.5 70.7,204.5 73.0,204.8 C75.3,205.0 78.6,207.3 80.6,207.5 C82.6,207.7 83.6,206.2 85.0,205.9 C86.4,205.6 87.3,205.4 89.2,205.9 C91.1,206.3 94.3,208.6 96.6,208.5 C98.9,208.4 100.7,206.3 102.8,205.2 C104.9,204.1 107.4,202.5 109.3,201.8 C111.2,201.1 112.8,200.7 114.2,201.2 C115.7,201.6 116.8,203.1 118.0,204.5 C119.2,205.9 120.2,209.4 121.7,209.6 C123.2,209.9 125.0,207.2 127.0,206.2 C129.0,205.3 131.7,204.4 133.9,203.9 C136.1,203.4 137.9,203.5 140.0,203.3 C142.1,203.1 144.2,203.1 146.7,203.0 C149.2,202.9 152.2,202.8 155.0,202.7 C157.8,202.6 160.9,202.5 163.4,202.3 C165.9,202.2 167.7,201.9 170.0,201.7 C172.3,201.4 175.4,201.0 177.4,200.8 C179.4,200.6 180.3,200.7 182.0,200.4 C183.7,200.2 186.8,199.6 187.7,199.4" stroke="#1a1aa0" stroke-width="1.3" fill="none" stroke-linejoin="round" stroke-linecap="round" />
<path d="M23.2,206.5 C23.8,207.1 25.4,208.6 27.0,210.0 C28.6,211.4 30.8,213.6 32.6,214.8 C34.4,216.1 36.4,217.4 38.0,217.7 C39.6,218.1 40.7,217.6 42.0,217.1 C43.3,216.7 44.8,215.9 46.0,215.0 C47.2,214.1 47.7,212.9 49.0,211.7 C50.3,210.6 52.5,208.4 54.0,208.2 C55.5,208.0 56.6,210.0 58.0,210.5 C59.4,211.0 61.0,211.5 62.5,211.3 C64.0,211.1 65.2,210.0 67.0,209.2 C68.8,208.5 70.7,206.7 73.0,206.8 C75.3,207.0 78.6,209.8 80.6,210.0 C82.6,210.3 83.6,208.7 85.0,208.3 C86.4,207.9 87.3,207.3 89.2,207.5 C91.1,207.7 94.3,209.9 96.6,209.6 C98.9,209.4 100.7,207.3 102.8,206.0 C104.9,204.7 107.4,203.0 109.3,201.8 C111.2,200.5 112.8,198.1 114.2,198.3 C115.7,198.6 116.8,201.4 118.0,203.3 C119.2,205.2 120.2,209.3 121.7,209.8 C123.2,210.3 125.0,207.4 127.0,206.3 C129.0,205.2 131.7,204.1 133.9,203.4 C136.1,202.6 137.9,202.4 140.0,202.0 C142.1,201.7 144.2,201.5 146.7,201.3 C149.2,201.2 152.2,201.1 155.0,201.0 C157.8,200.8 160.9,200.8 163.4,200.6 C165.9,200.4 167.7,200.0 170.0,199.6 C172.3,199.2 175.4,198.5 177.4,198.2 C179.4,198.0 180.3,198.5 182.0,198.2 C183.7,198.0 186.8,197.0 187.7,196.7" stroke="#5a8a20" stroke-width="1.3" fill="none" stroke-linejoin="round" stroke-linecap="round" />
<path d="M23.2,215.6 C23.8,216.6 25.4,219.2 27.0,221.3 C28.6,223.4 30.8,226.8 32.6,228.3 C34.4,229.8 36.4,230.6 38.0,230.5 C39.6,230.5 40.7,229.2 42.0,228.0 C43.3,226.8 44.8,225.2 46.0,223.5 C47.2,221.7 47.7,219.5 49.0,217.5 C50.3,215.5 52.5,211.8 54.0,211.4 C55.5,211.0 56.6,214.4 58.0,215.4 C59.4,216.4 61.0,217.6 62.5,217.4 C64.0,217.2 65.2,215.5 67.0,214.3 C68.8,213.1 70.7,210.2 73.0,210.3 C75.3,210.4 78.6,214.7 80.6,214.8 C82.6,214.9 83.6,212.0 85.0,210.9 C86.4,209.9 87.3,208.4 89.2,208.5 C91.1,208.6 94.3,211.9 96.6,211.6 C98.9,211.2 100.7,208.1 102.8,206.5 C104.9,204.8 107.4,202.8 109.3,201.8 C111.2,200.7 112.8,200.0 114.2,200.2 C115.7,200.5 116.8,201.8 118.0,203.4 C119.2,205.0 120.2,209.4 121.7,209.9 C123.2,210.4 125.0,207.6 127.0,206.4 C129.0,205.2 131.7,203.7 133.9,202.8 C136.1,201.8 137.9,201.2 140.0,200.6 C142.1,200.0 144.2,199.6 146.7,199.3 C149.2,199.0 152.2,198.9 155.0,198.7 C157.8,198.4 160.9,198.4 163.4,198.0 C165.9,197.6 167.7,197.1 170.0,196.4 C172.3,195.7 175.4,194.4 177.4,194.0 C179.4,193.7 180.3,194.8 182.0,194.5 C183.7,194.1 186.8,192.4 187.7,192.0" stroke="#c030f0" stroke-width="1.3" fill="none" stroke-linejoin="round" stroke-linecap="round" />
<path d="M23.2,233.1 C23.8,234.3 25.4,237.8 27.0,239.8 C28.6,241.9 30.8,244.7 32.6,245.3 C34.4,245.9 36.4,244.8 38.0,243.5 C39.6,242.1 40.7,239.5 42.0,237.1 C43.3,234.8 44.8,232.0 46.0,229.2 C47.2,226.5 47.7,223.6 49.0,220.8 C50.3,218.0 52.5,213.0 54.0,212.7 C55.5,212.4 56.6,217.0 58.0,219.1 C59.4,221.1 61.0,224.9 62.5,225.0 C64.0,225.0 65.2,221.4 67.0,219.3 C68.8,217.3 70.7,212.9 73.0,212.9 C75.3,212.9 78.6,219.1 80.6,219.4 C82.6,219.6 83.6,215.9 85.0,214.5 C86.4,213.0 87.3,210.8 89.2,210.6 C91.1,210.5 94.3,213.9 96.6,213.5 C98.9,213.0 100.7,210.1 102.8,208.1 C104.9,206.2 107.4,203.7 109.3,201.7 C111.2,199.7 112.8,195.9 114.2,195.9 C115.7,195.8 116.8,198.9 118.0,201.3 C119.2,203.7 120.2,209.3 121.7,210.2 C123.2,211.1 125.0,208.1 127.0,206.6 C129.0,205.1 131.7,202.8 133.9,201.1 C136.1,199.4 137.9,197.7 140.0,196.3 C142.1,194.9 144.2,193.4 146.7,192.8 C149.2,192.1 152.2,192.5 155.0,192.3 C157.8,192.2 160.9,192.4 163.4,192.0 C165.9,191.6 167.7,190.7 170.0,189.8 C172.3,188.9 175.4,186.7 177.4,186.5 C179.4,186.2 180.3,188.5 182.0,188.2 C183.7,187.9 186.8,185.4 187.7,184.9" stroke="#10a080" stroke-width="1.3" fill="none" stroke-linejoin="round" stroke-linecap="round" />
<path d="M23.2,239.8 C23.8,241.2 25.4,245.5 27.0,247.9 C28.6,250.3 30.8,253.7 32.6,254.4 C34.4,255.1 36.4,253.6 38.0,251.8 C39.6,250.1 40.7,247.0 42.0,244.1 C43.3,241.2 44.8,237.8 46.0,234.5 C47.2,231.2 47.7,227.7 49.0,224.3 C50.3,221.0 52.5,215.1 54.0,214.6 C55.5,214.2 56.6,219.4 58.0,221.6 C59.4,223.7 61.0,227.5 62.5,227.5 C64.0,227.5 65.2,223.7 67.0,221.5 C68.8,219.3 70.7,214.4 73.0,214.4 C75.3,214.5 78.6,221.3 80.6,221.6 C82.6,221.9 83.6,217.9 85.0,216.3 C86.4,214.7 87.3,212.0 89.2,211.8 C91.1,211.5 94.3,215.3 96.6,214.9 C98.9,214.5 100.7,211.4 102.8,209.2 C104.9,206.9 107.4,204.3 109.3,201.7 C111.2,199.0 112.8,193.6 114.2,193.4 C115.7,193.1 116.8,197.4 118.0,200.2 C119.2,203.0 120.2,209.3 121.7,210.3 C123.2,211.4 125.0,208.3 127.0,206.7 C129.0,205.1 131.7,202.6 133.9,200.7 C136.1,198.8 137.9,196.9 140.0,195.3 C142.1,193.8 144.2,192.1 146.7,191.4 C149.2,190.6 152.2,191.1 155.0,191.0 C157.8,190.9 160.9,191.1 163.4,190.7 C165.9,190.3 167.7,189.4 170.0,188.4 C172.3,187.4 175.4,185.1 177.4,184.9 C179.4,184.6 180.3,187.1 182.0,186.9 C183.7,186.6 186.8,184.0 187.7,183.4" stroke="#2244ee" stroke-width="1.3" fill="none" stroke-linejoin="round" stroke-linecap="round" />
<path d="M23.2,245.6 C23.8,247.1 25.4,251.9 27.0,254.5 C28.6,257.1 30.8,260.8 32.6,261.4 C34.4,262.0 36.4,260.1 38.0,258.1 C39.6,256.0 40.7,252.4 42.0,249.1 C43.3,245.8 44.8,241.9 46.0,238.2 C47.2,234.5 47.7,230.5 49.0,226.8 C50.3,223.1 52.5,216.5 54.0,215.9 C55.5,215.4 56.6,221.2 58.0,223.6 C59.4,225.9 61.0,230.1 62.5,230.0 C64.0,230.0 65.2,225.8 67.0,223.3 C68.8,220.9 70.7,215.4 73.0,215.5 C75.3,215.6 78.6,223.4 80.6,223.9 C82.6,224.3 83.6,220.1 85.0,218.2 C86.4,216.4 87.3,213.3 89.2,213.0 C91.1,212.7 94.3,217.1 96.6,216.6 C98.9,216.2 100.7,212.9 102.8,210.4 C104.9,207.9 107.4,204.9 109.3,201.6 C111.2,198.3 112.8,191.1 114.2,190.7 C115.7,190.3 116.8,195.7 118.0,199.0 C119.2,202.3 120.2,209.2 121.7,210.5 C123.2,211.8 125.0,208.5 127.0,206.7 C129.0,205.0 131.7,202.3 133.9,200.1 C136.1,198.0 137.9,195.7 140.0,193.9 C142.1,192.0 144.2,190.0 146.7,189.1 C149.2,188.2 152.2,188.8 155.0,188.6 C157.8,188.5 160.9,188.8 163.4,188.3 C165.9,187.8 167.7,186.8 170.0,185.6 C172.3,184.5 175.4,181.7 177.4,181.5 C179.4,181.2 180.3,184.2 182.0,183.9 C183.7,183.7 186.8,180.5 187.7,179.8" stroke="#ee2222" stroke-width="1.3" fill="none" stroke-linejoin="round" stroke-linecap="round" />
<path d="M23.2,262.3 C23.8,264.2 25.4,270.6 27.0,274.0 C28.6,277.4 30.8,282.4 32.6,282.7 C34.4,283.0 36.4,279.3 38.0,276.0 C39.6,272.7 40.7,267.7 42.0,263.0 C43.3,258.3 44.8,253.0 46.0,248.0 C47.2,243.0 47.7,237.8 49.0,233.0 C50.3,228.2 52.5,219.5 54.0,219.0 C55.5,218.5 56.6,226.3 58.0,230.0 C59.4,233.7 61.0,240.9 62.5,241.2 C64.0,241.5 65.2,235.4 67.0,232.0 C68.8,228.6 70.7,220.8 73.0,221.0 C75.3,221.2 78.6,232.7 80.6,233.5 C82.6,234.3 83.6,228.6 85.0,226.0 C86.4,223.4 87.3,218.3 89.2,217.8 C91.1,217.3 94.3,223.8 96.6,223.2 C98.9,222.6 100.7,218.1 102.8,214.5 C104.9,210.9 107.4,206.5 109.3,201.5 C111.2,196.5 112.8,185.2 114.2,184.3 C115.7,183.4 116.8,191.6 118.0,196.0 C119.2,200.4 120.2,209.1 121.7,210.9 C123.2,212.7 125.0,209.1 127.0,207.0 C129.0,204.9 131.7,201.3 133.9,198.5 C136.1,195.7 137.9,192.5 140.0,190.0 C142.1,187.5 144.2,184.8 146.7,183.6 C149.2,182.4 152.2,183.2 155.0,183.0 C157.8,182.8 160.9,183.3 163.4,182.6 C165.9,181.9 167.7,180.5 170.0,179.0 C172.3,177.5 175.4,173.7 177.4,173.4 C179.4,173.1 180.3,177.3 182.0,177.0 C183.7,176.7 186.8,172.4 187.7,171.5" stroke="#000000" stroke-width="1.3" fill="none" stroke-linejoin="round" stroke-linecap="round" />
<rect x="22.9" y="162.8" width="165.3" height="133.5" fill="none" stroke="#585858" stroke-width="1.1"/>
<line x1="22.9" y1="202.0" x2="25.4" y2="202.0" stroke="#585858" stroke-width="1"/>
<text x="20.0" y="204.0" font-family="Liberation Sans" font-size="10" fill="#1a1a1a" stroke="#1a1a1a" stroke-width="0.25" text-anchor="end" >0</text>
<line x1="22.9" y1="249.2" x2="25.4" y2="249.2" stroke="#585858" stroke-width="1"/>
<text x="20.0" y="252.3" font-family="Liberation Sans" font-size="10" fill="#1a1a1a" stroke="#1a1a1a" stroke-width="0.25" text-anchor="end" >-5</text>
<line x1="22.9" y1="296.3" x2="25.4" y2="296.3" stroke="#585858" stroke-width="1"/>
<text x="20.0" y="299.5" font-family="Liberation Sans" font-size="10" fill="#1a1a1a" stroke="#1a1a1a" stroke-width="0.25" text-anchor="end" >-10</text>
<line x1="22.9" y1="225.6" x2="24.4" y2="225.6" stroke="#585858" stroke-width="1"/>
<line x1="22.9" y1="272.7" x2="24.4" y2="272.7" stroke="#585858" stroke-width="1"/>
<line x1="46.4" y1="296.3" x2="46.4" y2="293.8" stroke="#585858" stroke-width="1"/>
<text x="46.4" y="309.0" font-family="Liberation Sans" font-size="10" fill="#1a1a1a" stroke="#1a1a1a" stroke-width="0.25" text-anchor="middle" >500</text>
<line x1="93.6" y1="296.3" x2="93.6" y2="293.8" stroke="#585858" stroke-width="1"/>
<text x="93.6" y="309.0" font-family="Liberation Sans" font-size="10" fill="#1a1a1a" stroke="#1a1a1a" stroke-width="0.25" text-anchor="middle" >600</text>
<line x1="140.8" y1="296.3" x2="140.8" y2="293.8" stroke="#585858" stroke-width="1"/>
<text x="140.8" y="309.0" font-family="Liberation Sans" font-size="10" fill="#1a1a1a" stroke="#1a1a1a" stroke-width="0.25" text-anchor="middle" >700</text>
<text x="188.0" y="309.0" font-family="Liberation Sans" font-size="10" fill="#1a1a1a" stroke="#1a1a1a" stroke-width="0.25" text-anchor="middle" >800</text>
<line x1="70.0" y1="296.3" x2="70.0" y2="294.8" stroke="#585858" stroke-width="1"/>
<line x1="117.2" y1="296.3" x2="117.2" y2="294.8" stroke="#585858" stroke-width="1"/>
<line x1="164.4" y1="296.3" x2="164.4" y2="294.8" stroke="#585858" stroke-width="1"/>
<text x="61.2" y="317.6" font-family="Liberation Sans" font-size="10.5" fill="#1a1a1a" stroke="#1a1a1a" stroke-width="0.25" text-anchor="start" >Wavelength (nm)</text>
<text x="10.6" y="226.2" font-family="Liberation Sans" font-size="9.6" fill="#1a1a1a" stroke="#1a1a1a" stroke-width="0.25" text-anchor="middle" transform="rotate(-90 10.6 226.2)">&#x394;A (mOD)</text>
<text x="24.0" y="175.5" font-family="Liberation Sans" font-size="14" fill="#1a1a1a" stroke="#1a1a1a" stroke-width="0.25" text-anchor="start" >c)</text>
<text x="70.0" y="179.6" font-family="Liberation Sans" font-size="10.5" fill="#1a1a1a" stroke="#1a1a1a" stroke-width="0.25" text-anchor="start" >Ce-TCPP</text>
<line x1="46.0" y1="254.6" x2="62.5" y2="254.6" stroke="#000000" stroke-width="1.7"/>
<text x="64.1" y="257.3" font-family="Liberation Sans" font-size="7.5" fill="#1a1a1a" stroke="#1a1a1a" stroke-width="0.15" text-anchor="start" >1ps</text>
<line x1="82.4" y1="254.6" x2="99.0" y2="254.6" stroke="#ee2222" stroke-width="1.7"/>
<text x="100.6" y="257.3" font-family="Liberation Sans" font-size="7.5" fill="#1a1a1a" stroke="#1a1a1a" stroke-width="0.15" text-anchor="start" >3ps</text>
<line x1="46.0" y1="263.3" x2="62.5" y2="263.3" stroke="#2244ee" stroke-width="1.7"/>
<text x="64.1" y="266.0" font-family="Liberation Sans" font-size="7.5" fill="#1a1a1a" stroke="#1a1a1a" stroke-width="0.15" text-anchor="start" >5ps</text>
<line x1="82.4" y1="263.3" x2="99.0" y2="263.3" stroke="#10a080" stroke-width="1.7"/>
<text x="100.6" y="266.0" font-family="Liberation Sans" font-size="7.5" fill="#1a1a1a" stroke="#1a1a1a" stroke-width="0.15" text-anchor="start" >10ps</text>
<line x1="46.0" y1="272.0" x2="62.5" y2="272.0" stroke="#c030f0" stroke-width="1.7"/>
<text x="64.1" y="274.7" font-family="Liberation Sans" font-size="7.5" fill="#1a1a1a" stroke="#1a1a1a" stroke-width="0.15" text-anchor="start" >50ps</text>
<line x1="82.4" y1="272.0" x2="99.0" y2="272.0" stroke="#5a8a20" stroke-width="1.7"/>
<text x="100.6" y="274.7" font-family="Liberation Sans" font-size="7.5" fill="#1a1a1a" stroke="#1a1a1a" stroke-width="0.15" text-anchor="start" >200ps</text>
<line x1="46.0" y1="280.4" x2="62.5" y2="280.4" stroke="#1a1aa0" stroke-width="1.7"/>
<text x="64.1" y="283.1" font-family="Liberation Sans" font-size="7.5" fill="#1a1a1a" stroke="#1a1a1a" stroke-width="0.15" text-anchor="start" >1ns</text>
<line x1="82.4" y1="280.4" x2="99.0" y2="280.4" stroke="#7a1020" stroke-width="1.7"/>
<text x="100.6" y="283.1" font-family="Liberation Sans" font-size="7.5" fill="#1a1a1a" stroke="#1a1a1a" stroke-width="0.15" text-anchor="start" >4ns</text>
<rect x="124.1" y="220.6" width="61.8" height="49.2" fill="#fff" stroke="#999" stroke-width="0.9"/>
<path d="M124.5,241.8 C124.8,241.6 125.8,241.1 126.5,240.6 C127.2,240.1 127.7,239.4 128.4,238.8 C129.1,238.2 129.7,237.4 130.5,236.8 C131.3,236.2 132.0,235.8 133.0,235.5 C134.0,235.2 132.2,235.2 136.7,235.1 C141.2,235.0 151.9,235.1 160.0,235.1 C168.1,235.1 181.2,235.1 185.5,235.1" stroke="#111" stroke-width="1.2" fill="none" stroke-linejoin="round" stroke-linecap="round" />
<path d="M124.5,254.2 C124.8,255.4 125.8,260.6 126.5,261.6 C127.2,262.6 127.6,262.5 128.4,260.3 C129.2,258.1 130.6,252.6 131.5,248.6 C132.4,244.6 133.1,238.0 133.9,236.6 C134.7,235.2 135.5,239.5 136.3,240.3 C137.1,241.1 137.8,241.7 138.6,241.2 C139.4,240.7 140.5,238.0 141.4,237.5 C142.3,237.0 142.7,238.6 143.8,238.4 C144.9,238.2 146.2,236.9 147.8,236.6 C149.4,236.3 151.9,236.8 153.4,236.6 C154.9,236.4 156.2,236.4 157.1,235.6 C158.0,234.8 158.2,231.7 159.0,231.9 C159.8,232.1 160.9,235.8 161.8,236.6 C162.7,237.4 163.5,236.8 164.6,236.6 C165.7,236.4 164.8,235.8 168.3,235.6 C171.8,235.4 182.6,235.4 185.5,235.3" stroke="#ee2222" stroke-width="1.2" fill="none" stroke-linejoin="round" stroke-linecap="round" />
<path d="M124.5,252.9 C124.8,254.4 125.8,261.1 126.5,262.2 C127.2,263.3 127.6,261.2 128.4,259.5 C129.2,257.8 130.7,255.3 131.5,251.9 C132.3,248.5 132.8,240.6 133.5,238.9 C134.2,237.2 135.0,240.3 135.8,241.7 C136.7,243.1 137.7,247.3 138.6,247.3 C139.5,247.3 140.5,242.2 141.4,241.7 C142.3,241.2 142.9,244.7 143.8,244.5 C144.7,244.3 145.9,241.1 146.9,240.8 C147.9,240.5 148.6,242.9 149.7,242.6 C150.8,242.3 152.3,239.8 153.4,238.9 C154.5,238.0 155.3,238.3 156.2,237.1 C157.1,235.9 158.1,231.3 159.0,231.5 C159.9,231.7 160.9,237.2 161.8,238.0 C162.7,238.8 163.2,236.8 164.6,236.1 C166.0,235.3 167.9,234.1 170.1,233.5 C172.3,232.9 175.4,233.3 177.6,232.6 C179.8,231.9 181.8,229.9 183.1,229.4 C184.4,228.9 185.1,229.7 185.5,229.8" stroke="#2244ee" stroke-width="1.2" fill="none" stroke-linejoin="round" stroke-linecap="round" />
<path d="M124.5,251.4 C124.8,252.9 125.8,259.6 126.5,260.7 C127.2,261.8 127.6,259.6 128.4,258.0 C129.2,256.4 130.7,254.7 131.5,251.4 C132.3,248.1 132.8,240.1 133.5,238.4 C134.2,236.7 135.0,239.8 135.8,241.2 C136.7,242.6 137.7,246.8 138.6,246.8 C139.5,246.8 140.5,241.7 141.4,241.2 C142.3,240.7 142.9,244.2 143.8,244.0 C144.7,243.8 145.9,240.6 146.9,240.3 C147.9,240.0 148.6,242.4 149.7,242.1 C150.8,241.8 152.3,239.3 153.4,238.4 C154.5,237.5 155.3,237.8 156.2,236.6 C157.1,235.4 158.1,230.8 159.0,231.0 C159.9,231.2 160.9,236.7 161.8,237.5 C162.7,238.3 163.2,236.7 164.6,235.6 C166.0,234.5 167.9,231.9 170.1,231.0 C172.3,230.1 175.4,230.8 177.6,230.1 C179.8,229.4 181.8,227.4 183.1,226.9 C184.4,226.4 185.1,227.2 185.5,227.3" stroke="#10a070" stroke-width="1.2" fill="none" stroke-linejoin="round" stroke-linecap="round" />
<line x1="133.4" y1="269.8" x2="133.4" y2="268.3" stroke="#999" stroke-width="0.8"/>
<text x="133.4" y="275.7" font-family="Liberation Sans" font-size="6.5" fill="#1a1a1a" stroke="#1a1a1a" stroke-width="0" text-anchor="middle" >500</text>
<line x1="150.7" y1="269.8" x2="150.7" y2="268.3" stroke="#999" stroke-width="0.8"/>
<text x="150.7" y="275.7" font-family="Liberation Sans" font-size="6.5" fill="#1a1a1a" stroke="#1a1a1a" stroke-width="0" text-anchor="middle" >600</text>
<line x1="168.0" y1="269.8" x2="168.0" y2="268.3" stroke="#999" stroke-width="0.8"/>
<text x="168.0" y="275.7" font-family="Liberation Sans" font-size="6.5" fill="#1a1a1a" stroke="#1a1a1a" stroke-width="0" text-anchor="middle" >700</text>
<line x1="158.1" y1="242.5" x2="165.5" y2="242.5" stroke="#111" stroke-width="1.7"/>
<text x="167.9" y="244.8" font-family="Liberation Sans" font-size="6.8" fill="#1a1a1a" stroke="#1a1a1a" stroke-width="0" text-anchor="start" >0.2ps</text>
<line x1="158.1" y1="250.4" x2="165.5" y2="250.4" stroke="#ee2222" stroke-width="1.7"/>
<text x="167.9" y="252.7" font-family="Liberation Sans" font-size="6.8" fill="#1a1a1a" stroke="#1a1a1a" stroke-width="0" text-anchor="start" >0.5ps</text>
<line x1="158.1" y1="257.9" x2="165.5" y2="257.9" stroke="#2244ee" stroke-width="1.7"/>
<text x="167.9" y="260.2" font-family="Liberation Sans" font-size="6.8" fill="#1a1a1a" stroke="#1a1a1a" stroke-width="0" text-anchor="start" >0.8ps</text>
<line x1="158.1" y1="265.3" x2="165.5" y2="265.3" stroke="#10a070" stroke-width="1.7"/>
<text x="167.9" y="267.6" font-family="Liberation Sans" font-size="6.8" fill="#1a1a1a" stroke="#1a1a1a" stroke-width="0" text-anchor="start" >1ps</text>
<path d="M214.6,285.3 C217.2,285.0 225.0,284.0 230.0,283.5 C235.0,283.0 241.4,282.9 244.7,282.3 C248.0,281.7 248.1,279.5 249.8,279.7 C251.5,279.9 253.2,283.2 254.9,283.4 C256.6,283.6 258.6,280.4 260.0,280.9 C261.4,281.4 261.5,286.8 263.0,286.2 C264.5,285.6 267.4,278.2 269.1,277.2 C270.8,276.2 271.8,279.0 273.2,280.3 C274.6,281.6 275.8,285.4 277.3,285.2 C278.8,285.0 281.1,279.8 282.4,278.9 C283.7,278.0 283.7,279.3 285.0,280.0 C286.3,280.7 288.3,283.0 290.1,283.1 C291.9,283.2 294.0,281.4 296.0,280.5 C298.0,279.6 300.0,277.6 302.2,277.8 C304.4,278.0 306.5,281.5 309.2,281.6 C311.9,281.7 315.0,278.6 318.2,278.4 C321.4,278.2 325.4,279.6 328.4,280.6 C331.4,281.6 334.0,284.5 336.4,284.3 C338.8,284.1 340.0,279.9 342.8,279.2 C345.6,278.5 349.8,280.2 353.0,280.2 C356.2,280.2 358.5,278.9 361.9,279.2 C365.3,279.4 370.5,281.6 373.4,281.7 C376.3,281.8 378.5,280.3 379.5,280.0" stroke="#8a9cb0" stroke-width="1.2" fill="none" stroke-linejoin="round" stroke-linecap="round" />
<path d="M214.6,258.0 C216.3,258.0 221.6,258.0 225.0,258.0 C228.4,258.0 232.2,258.0 235.0,258.0 C237.8,258.0 239.7,258.2 242.0,258.0 C244.3,257.8 247.5,256.2 249.0,256.5 C250.5,256.8 249.9,259.8 250.9,260.0 C251.9,260.2 253.6,258.3 255.0,257.5 C256.4,256.7 258.1,255.8 259.5,255.0 C260.9,254.2 262.2,252.8 263.2,253.0 C264.2,253.2 264.7,253.2 265.5,256.0 C266.3,258.8 267.1,268.7 267.9,270.0 C268.7,271.3 269.4,266.3 270.5,264.0 C271.6,261.7 272.8,257.2 274.4,256.0 C276.0,254.8 277.4,256.3 280.0,256.5 C282.6,256.7 286.7,256.8 290.0,257.0 C293.3,257.2 295.8,257.5 300.0,257.5 C304.2,257.5 310.0,256.8 315.0,256.8 C320.0,256.8 325.0,257.6 330.0,257.5 C335.0,257.4 340.0,256.6 345.0,256.5 C350.0,256.4 354.2,256.8 360.0,256.8 C365.8,256.8 376.2,256.4 379.5,256.3" stroke="#22bb22" stroke-width="1.3" fill="none" stroke-linejoin="round" stroke-linecap="round" />
<path d="M214.6,259.2 C216.3,259.2 221.6,259.2 225.0,259.2 C228.4,259.2 232.1,258.9 235.0,259.2 C237.9,259.5 240.8,260.9 242.6,261.0 C244.4,261.1 244.9,260.5 246.0,260.0 C247.1,259.5 248.2,258.0 249.0,258.0 C249.8,258.0 250.0,260.0 251.0,260.0 C252.0,260.0 253.6,258.7 255.0,258.0 C256.4,257.3 258.1,256.8 259.5,256.0 C260.9,255.2 262.2,253.2 263.2,253.5 C264.2,253.8 264.7,254.9 265.5,258.0 C266.3,261.1 267.1,270.5 267.9,271.8 C268.7,273.1 269.4,268.4 270.5,266.0 C271.6,263.6 272.8,258.7 274.4,257.5 C276.0,256.3 277.5,258.2 280.0,259.0 C282.5,259.8 287.1,262.4 289.6,262.5 C292.1,262.6 292.4,260.0 295.0,259.5 C297.6,259.0 301.7,259.6 305.0,259.5 C308.3,259.4 311.7,258.8 315.0,259.0 C318.3,259.2 322.2,259.7 325.0,260.5 C327.8,261.3 329.2,264.1 331.7,264.0 C334.2,263.9 336.9,260.8 340.0,260.0 C343.1,259.2 345.8,259.5 350.0,259.5 C354.2,259.5 360.1,260.0 365.0,260.0 C369.9,260.0 377.1,259.6 379.5,259.5" stroke="#2a3ee0" stroke-width="1.3" fill="none" stroke-linejoin="round" stroke-linecap="round" />
<path d="M214.6,258.3 C216.3,258.3 221.6,258.4 225.0,258.5 C228.4,258.6 232.3,258.6 235.0,258.8 C237.7,259.0 239.2,259.3 241.0,259.5 C242.8,259.7 244.7,260.1 246.0,259.8 C247.3,259.5 248.2,257.6 249.0,257.5 C249.8,257.4 250.0,259.6 251.0,259.5 C252.0,259.4 253.6,257.8 255.0,257.0 C256.4,256.2 258.1,255.4 259.5,254.5 C260.9,253.6 262.2,251.2 263.2,251.4 C264.2,251.7 264.7,252.5 265.5,256.0 C266.3,259.5 267.1,270.8 267.9,272.5 C268.7,274.2 269.4,268.7 270.5,266.0 C271.6,263.3 272.8,257.9 274.4,256.5 C276.0,255.1 277.4,257.1 280.0,257.5 C282.6,257.9 286.7,258.8 290.0,259.0 C293.3,259.2 296.3,258.1 300.0,258.5 C303.7,258.9 308.7,261.4 312.0,261.5 C315.3,261.6 316.7,259.3 320.0,259.0 C323.3,258.7 327.8,259.6 332.0,259.5 C336.2,259.4 341.2,258.4 345.0,258.5 C348.8,258.6 351.7,260.0 355.0,260.0 C358.3,260.0 360.9,258.7 365.0,258.5 C369.1,258.3 377.1,258.9 379.5,259.0" stroke="#ee2222" stroke-width="1.3" fill="none" stroke-linejoin="round" stroke-linecap="round" />
<path d="M214.6,257.7 C216.3,257.6 221.6,257.4 224.8,257.1 C228.0,256.8 230.9,256.4 233.7,255.8 C236.4,255.2 239.0,254.4 241.3,253.3 C243.6,252.2 245.8,251.0 247.7,249.5 C249.6,248.0 251.4,246.3 252.8,244.5 C254.2,242.7 255.1,240.7 256.0,238.5 C256.9,236.3 257.7,233.8 258.4,231.4 C259.1,229.0 259.6,227.1 260.2,224.0 C260.8,220.9 261.5,216.9 262.1,212.9 C262.7,208.9 263.4,203.6 263.9,199.9 C264.4,196.2 264.4,193.6 264.9,190.6 C265.4,187.6 265.9,184.2 266.7,182.2 C267.5,180.1 268.6,178.2 269.5,178.3 C270.4,178.5 271.4,180.8 272.3,183.1 C273.2,185.4 274.2,189.3 275.1,192.4 C276.0,195.5 277.0,198.9 277.9,201.7 C278.8,204.5 279.6,207.0 280.7,209.2 C281.8,211.4 282.8,213.3 284.4,214.7 C285.9,216.1 287.9,216.8 290.0,217.5 C292.1,218.2 294.8,218.5 297.0,218.9 C299.2,219.3 301.2,220.0 303.2,219.9 C305.2,219.8 307.0,219.2 309.0,218.5 C311.0,217.8 313.6,216.6 315.4,215.8 C317.2,215.0 318.3,214.2 320.0,213.5 C321.7,212.8 323.6,212.2 325.6,211.7 C327.6,211.2 329.3,210.6 332.0,210.6 C334.7,210.6 339.1,211.1 341.9,211.5 C344.7,211.9 346.5,212.7 348.8,213.2 C351.1,213.7 353.2,214.3 355.7,214.7 C358.2,215.1 361.0,215.3 363.7,215.5 C366.4,215.7 369.1,215.7 371.7,215.8 C374.3,215.9 378.2,216.1 379.5,216.1" stroke="#45585a" stroke-width="1.3" fill="none" stroke-linejoin="round" stroke-linecap="round" />
<rect x="214.5" y="162.8" width="165.5" height="133.2" fill="none" stroke="#585858" stroke-width="1.1"/>
<line x1="214.5" y1="258.7" x2="217.0" y2="258.7" stroke="#585858" stroke-width="1"/>
<text x="211.5" y="262.5" font-family="Liberation Serif" font-size="11" fill="#1a1a1a" stroke="#1a1a1a" stroke-width="0.1" text-anchor="end" >0</text>
<line x1="214.5" y1="217.0" x2="217.0" y2="217.0" stroke="#585858" stroke-width="1"/>
<text x="211.5" y="220.8" font-family="Liberation Serif" font-size="11" fill="#1a1a1a" stroke="#1a1a1a" stroke-width="0.1" text-anchor="end" >1</text>
<line x1="214.5" y1="175.3" x2="217.0" y2="175.3" stroke="#585858" stroke-width="1"/>
<text x="211.5" y="179.1" font-family="Liberation Serif" font-size="11" fill="#1a1a1a" stroke="#1a1a1a" stroke-width="0.1" text-anchor="end" >2</text>
<line x1="214.5" y1="279.6" x2="216.0" y2="279.6" stroke="#585858" stroke-width="1"/>
<line x1="214.5" y1="237.8" x2="216.0" y2="237.8" stroke="#585858" stroke-width="1"/>
<line x1="214.5" y1="196.1" x2="216.0" y2="196.1" stroke="#585858" stroke-width="1"/>
<text x="214.4" y="307.9" font-family="Liberation Serif" font-size="11" fill="#1a1a1a" stroke="#1a1a1a" stroke-width="0.1" text-anchor="middle" >5.70</text>
<line x1="255.6" y1="296.0" x2="255.6" y2="293.5" stroke="#585858" stroke-width="1"/>
<text x="255.6" y="307.9" font-family="Liberation Serif" font-size="11" fill="#1a1a1a" stroke="#1a1a1a" stroke-width="0.1" text-anchor="middle" >5.72</text>
<line x1="296.8" y1="296.0" x2="296.8" y2="293.5" stroke="#585858" stroke-width="1"/>
<text x="296.8" y="307.9" font-family="Liberation Serif" font-size="11" fill="#1a1a1a" stroke="#1a1a1a" stroke-width="0.1" text-anchor="middle" >5.74</text>
<line x1="338.0" y1="296.0" x2="338.0" y2="293.5" stroke="#585858" stroke-width="1"/>
<text x="338.0" y="307.9" font-family="Liberation Serif" font-size="11" fill="#1a1a1a" stroke="#1a1a1a" stroke-width="0.1" text-anchor="middle" >5.76</text>
<text x="379.2" y="307.9" font-family="Liberation Serif" font-size="11" fill="#1a1a1a" stroke="#1a1a1a" stroke-width="0.1" text-anchor="middle" >5.78</text>
<line x1="235.0" y1="296.0" x2="235.0" y2="294.5" stroke="#585858" stroke-width="1"/>
<line x1="276.2" y1="296.0" x2="276.2" y2="294.5" stroke="#585858" stroke-width="1"/>
<line x1="317.4" y1="296.0" x2="317.4" y2="294.5" stroke="#585858" stroke-width="1"/>
<line x1="358.6" y1="296.0" x2="358.6" y2="294.5" stroke="#585858" stroke-width="1"/>
<text x="265.3" y="318.5" font-family="Liberation Sans" font-size="11.5" fill="#1a1a1a" stroke="#1a1a1a" stroke-width="0.25" text-anchor="start" >Energy (kev)</text>
<text x="200.0" y="230.2" font-family="Liberation Sans" font-size="11.5" fill="#1a1a1a" stroke="#1a1a1a" stroke-width="0.25" text-anchor="middle" transform="rotate(-90 200 230.2)">Norm X A</text>
<text x="215.8" y="175.9" font-family="Liberation Sans" font-size="14" fill="#1a1a1a" stroke="#1a1a1a" stroke-width="0.25" text-anchor="start" >d)</text>
<text x="291.8" y="177.1" font-family="Liberation Sans" font-size="11" fill="#1a1a1a" stroke="#1a1a1a" stroke-width="0.25" text-anchor="start" >XTA of Ce-TCPP</text>
<text x="229.8" y="196.0" font-family="Liberation Serif" font-size="10" fill="#1a1a1a" stroke="#1a1a1a" stroke-width="0.1" text-anchor="start" >2p</text>
<line x1="243.5" y1="193.0" x2="249.5" y2="193.0" stroke="#1a1a1a" stroke-width="0.9"/>
<polygon points="251.8,193.0 249.0,191.7 249.0,194.3" fill="#1a1a1a"/>
<text x="253.9" y="196.0" font-family="Liberation Serif" font-size="10" fill="#1a1a1a" stroke="#1a1a1a" stroke-width="0.1" text-anchor="start" >5d</text>
<text x="279.5" y="195.4" font-family="Liberation Serif" font-size="10.5" fill="#1a1a1a" stroke="#1a1a1a" stroke-width="0.1" text-anchor="start" >mixed with 4f</text>
<text x="272.1" y="249.2" font-family="Liberation Sans" font-size="8" fill="#1a1a1a" stroke="#1a1a1a" stroke-width="0.15" text-anchor="start" >difference x30</text>
<line x1="333.6" y1="222.0" x2="351.0" y2="222.0" stroke="#ee2222" stroke-width="1.5"/>
<text x="353.0" y="224.9" font-family="Liberation Serif" font-size="8.5" fill="#1a1a1a" stroke="#1a1a1a" stroke-width="0.1" text-anchor="start" >100ps</text>
<line x1="333.6" y1="231.6" x2="351.0" y2="231.6" stroke="#2a3ee0" stroke-width="1.5"/>
<text x="353.0" y="234.5" font-family="Liberation Serif" font-size="8.5" fill="#1a1a1a" stroke="#1a1a1a" stroke-width="0.1" text-anchor="start" >1ns</text>
<line x1="333.6" y1="241.1" x2="351.0" y2="241.1" stroke="#22bb22" stroke-width="1.5"/>
<text x="353.0" y="244.0" font-family="Liberation Serif" font-size="8.5" fill="#1a1a1a" stroke="#1a1a1a" stroke-width="0.1" text-anchor="start" >10ns</text>
<line x1="333.6" y1="250.7" x2="351.0" y2="250.7" stroke="#8a9aa8" stroke-width="1.5"/>
<text x="353.0" y="253.6" font-family="Liberation Serif" font-size="8.5" fill="#1a1a1a" stroke="#1a1a1a" stroke-width="0.1" text-anchor="start" >100ns</text>
</svg></body></html>
